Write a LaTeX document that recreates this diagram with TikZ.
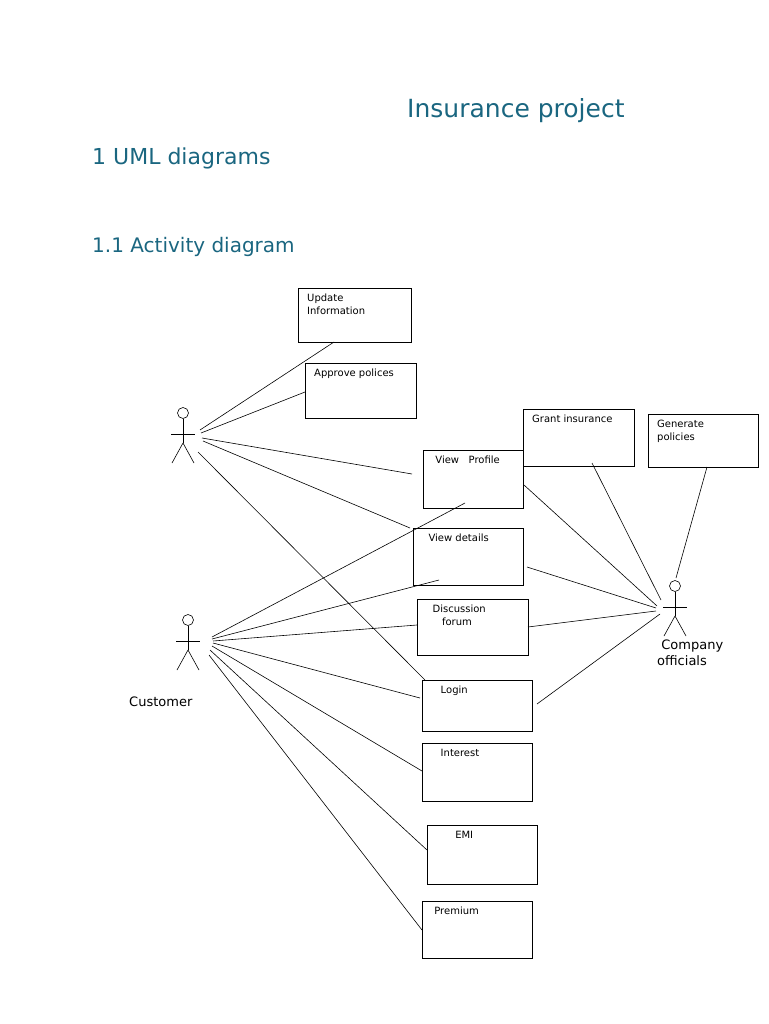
\documentclass[tikz,border=0pt]{standalone}
\usepackage{fontspec}
\setmainfont{DejaVu Sans}
\definecolor{hdcol}{HTML}{1A6680}
\begin{document}
\begin{tikzpicture}[x=1pt,y=-1pt,
  box/.style={draw,line width=0.7pt},
  lbl/.style={font=\fontsize{10}{12.5}\selectfont,anchor=north west,align=left,inner sep=0pt},
  hd/.style={text=hdcol,anchor=base west,inner sep=0pt},
  ln/.style={line width=0.6pt}]
\useasboundingbox (0,0) rectangle (768,1024);
\node[hd,font=\fontsize{25}{30}\selectfont] (t) at (407,118) {Insurance project};
\node[hd,font=\fontsize{22}{26}\selectfont] (h1) at (92,165) {1 UML diagrams};
\node[hd,font=\fontsize{20}{24}\selectfont] (h2) at (92,252) {1.1 Activity diagram};
% boxes
\newcommand{\bx}[6]{\draw[box] (#2,#3) rectangle (#4,#5); \node[lbl] (#1) at (#2+9,#3+6) {#6};}
\bx{upd}{298}{288}{411}{342}{Update\\Information}
\bx{app}{305}{363}{416}{418}{Approve polices}
\bx{gra}{523}{409}{634}{466}{Grant insurance}
\bx{gen}{648}{414}{758}{467}{Generate\\policies}
\bx{vp}{423}{450}{523}{508}{\ View\ \ \ Profile}
\bx{vd}{413}{528}{523}{585}{\ \ View details}
\bx{df}{417}{599}{528}{655}{\ \ Discussion\\\ \ \ \ \ forum}
\bx{log}{422}{680}{532}{731}{\ \ \ Login}
\bx{int}{422}{743}{532}{801}{\ \ \ Interest}
\bx{emi}{427}{825}{537}{884}{\ \ \ \ \ \ EMI}
\bx{pre}{422}{901}{532}{958}{\ Premium}
% actors
\newcommand{\actor}[3]{%
 \draw[ln] (#2,#3) circle (5.5);
 \draw[ln] (#2,#3+5.5) -- (#2,#3+30) coordinate (#1b);
 \draw[ln] (#2-12,#3+21) -- (#2+12,#3+21);
 \draw[ln] (#1b) -- (#2-11,#3+50); \draw[ln] (#1b) -- (#2+11,#3+50);}
\actor{a}{183}{413}
\actor{c}{188}{620}
\actor{o}{675}{586}
\node[font=\fontsize{13}{15.5}\selectfont,anchor=base west,inner sep=0pt] (cu) at (129,706) {Customer};
\node[font=\fontsize{13}{15.5}\selectfont,anchor=north west,align=left,inner sep=0pt] (co) at (657,640) {\ Company\\officials};
% actor 1 lines
\draw[ln] (200,430) -- (334,342);
\draw[ln] (201,433) -- (305,392);
\draw[ln] (202,438) -- (412,474);
\draw[ln] (203,441) -- (410,528);
\draw[ln] (198,452) -- (425,680);
% customer lines
\draw[ln] (212,637) -- (465,503);
\draw[ln] (212,639) -- (439,580);
\draw[ln] (213,641) -- (417,625);
\draw[ln] (213,643) -- (420,698);
\draw[ln] (212,646) -- (422,771);
\draw[ln] (210,650) -- (427,850);
\draw[ln] (209,655) -- (422,930);
% company lines
\draw[ln] (657,606) -- (524,485);
\draw[ln] (661,600) -- (592,463);
\draw[ln] (676,578) -- (707,467);
\draw[ln] (656,608) -- (527,567);
\draw[ln] (656,611) -- (528,627);
\draw[ln] (660,614) -- (537,704);
\end{tikzpicture}
\end{document}
